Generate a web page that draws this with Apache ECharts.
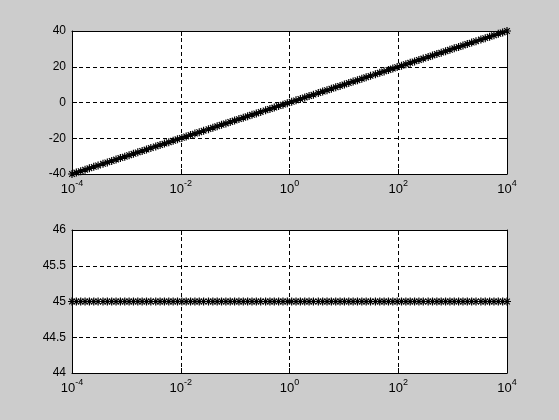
<!DOCTYPE html>
<html>
<head>
<meta charset="utf-8">
<script src="https://cdn.jsdelivr.net/npm/echarts@6/dist/echarts.min.js"></script>
<style>
  body { margin: 0; background: #cccccc; }
  #chart { width: 559px; height: 420px; }
</style>
</head>
<body>
<div id="chart"></div>
<script>
const xDecades = [
  -4.00, -3.92, -3.84, -3.76, -3.68, -3.60, -3.52, -3.43, -3.35, -3.27,
  -3.19, -3.11, -3.03, -2.95, -2.87, -2.79, -2.71, -2.63, -2.55, -2.46,
  -2.38, -2.30, -2.22, -2.14, -2.06, -1.98, -1.90, -1.82, -1.74, -1.66,
  -1.58, -1.49, -1.41, -1.33, -1.25, -1.17, -1.09, -1.01, -0.93, -0.85,
  -0.77, -0.69, -0.61, -0.53, -0.44, -0.36, -0.28, -0.20, -0.12, -0.04,
  0.04, 0.12, 0.20, 0.28, 0.36, 0.44, 0.53, 0.61, 0.69, 0.77,
  0.85, 0.93, 1.01, 1.09, 1.17, 1.25, 1.33, 1.41, 1.49, 1.58,
  1.66, 1.74, 1.82, 1.90, 1.98, 2.06, 2.14, 2.22, 2.30, 2.38,
  2.46, 2.55, 2.63, 2.71, 2.79, 2.87, 2.95, 3.03, 3.11, 3.19,
  3.27, 3.35, 3.43, 3.52, 3.60, 3.68, 3.76, 3.84, 3.92, 4.00
]

const topValues = [
  -40.0, -39.2, -38.4, -37.6, -36.8, -36.0, -35.2, -34.3, -33.5, -32.7,
  -31.9, -31.1, -30.3, -29.5, -28.7, -27.9, -27.1, -26.3, -25.5, -24.6,
  -23.8, -23.0, -22.2, -21.4, -20.6, -19.8, -19.0, -18.2, -17.4, -16.6,
  -15.8, -14.9, -14.1, -13.3, -12.5, -11.7, -10.9, -10.1, -9.3, -8.5,
  -7.7, -6.9, -6.1, -5.3, -4.4, -3.6, -2.8, -2.0, -1.2, -0.4,
  0.4, 1.2, 2.0, 2.8, 3.6, 4.4, 5.3, 6.1, 6.9, 7.7,
  8.5, 9.3, 10.1, 10.9, 11.7, 12.5, 13.3, 14.1, 14.9, 15.8,
  16.6, 17.4, 18.2, 19.0, 19.8, 20.6, 21.4, 22.2, 23.0, 23.8,
  24.6, 25.5, 26.3, 27.1, 27.9, 28.7, 29.5, 30.3, 31.1, 31.9,
  32.7, 33.5, 34.3, 35.2, 36.0, 36.8, 37.6, 38.4, 39.2, 40.0
]

const bottomValues = [
  45, 45, 45, 45, 45, 45, 45, 45, 45, 45,
  45, 45, 45, 45, 45, 45, 45, 45, 45, 45,
  45, 45, 45, 45, 45, 45, 45, 45, 45, 45,
  45, 45, 45, 45, 45, 45, 45, 45, 45, 45,
  45, 45, 45, 45, 45, 45, 45, 45, 45, 45,
  45, 45, 45, 45, 45, 45, 45, 45, 45, 45,
  45, 45, 45, 45, 45, 45, 45, 45, 45, 45,
  45, 45, 45, 45, 45, 45, 45, 45, 45, 45,
  45, 45, 45, 45, 45, 45, 45, 45, 45, 45,
  45, 45, 45, 45, 45, 45, 45, 45, 45, 45
]

const xMin = 1e-4
const xMax = 1e4
const topTicks = { min: -40, max: 40, interval: 20 }
const bottomTicks = { min: 44, max: 46, interval: 0.5 }

const font = 'Liberation Sans, Arial, sans-serif'
const asterisk = 'path://M0,-10L0,10M-10,0L10,0M-7,-7L7,7M-7,7L7,-7'

const dashed = { show: true, lineStyle: { color: '#000', type: [4, 3], width: 1 } }
const tick = { show: true, inside: true, length: 5, lineStyle: { color: '#000' } }
const line = { show: true, onZero: false, lineStyle: { color: '#000', width: 1 } }

const logLabel = {
  margin: 5,
  fontFamily: font,
  color: '#000',
  formatter: v => '{b|10}{s|' + Math.round(Math.log10(v)) + '}',
  rich: {
    b: { fontSize: 13, lineHeight: 20, fontFamily: font, color: '#000' },
    s: { fontSize: 9, lineHeight: 9, verticalAlign: 'top', fontFamily: font, color: '#000' }
  }
}

function xAxes(gridIndex) {
  const base = {
    type: 'log', logBase: 10, gridIndex, min: xMin, max: xMax, interval: 2,
    axisLine: line, axisTick: tick, minorTick: { show: false }
  }
  return [
    { ...base, position: 'bottom', axisLabel: logLabel, splitLine: dashed },
    { ...base, position: 'top', axisLabel: { show: false }, splitLine: { show: false } }
  ]
}

function yAxes(gridIndex, ticks) {
  const base = { type: 'value', gridIndex, ...ticks, axisLine: line, axisTick: tick }
  return [
    { ...base, position: 'left', splitLine: dashed,
      axisLabel: { margin: 6, fontSize: 12, fontFamily: font, color: '#000' } },
    { ...base, position: 'right', axisLabel: { show: false }, splitLine: { show: false } }
  ]
}

function series(xAxisIndex, yAxisIndex, values) {
  return {
    type: 'line',
    xAxisIndex,
    yAxisIndex,
    data: xDecades.map((d, i) => [Math.pow(10, d), values[i]]),
    symbol: asterisk,
    symbolSize: 8,
    showSymbol: true,
    showAllSymbol: true,
    lineStyle: { color: '#000', width: 1 },
    itemStyle: { color: 'none', borderColor: '#000', borderWidth: 1.2 },
    animation: false
  }
}

const chart = echarts.init(document.getElementById('chart'))
chart.setOption({
  backgroundColor: '#cccccc',
  animation: false,
  grid: [
    { left: 72, right: 52, top: 31, height: 143, show: true, backgroundColor: '#fff', borderWidth: 0 },
    { left: 72, right: 52, top: 230, height: 143, show: true, backgroundColor: '#fff', borderWidth: 0 }
  ],
  xAxis: [...xAxes(0), ...xAxes(1)],
  yAxis: [...yAxes(0, topTicks), ...yAxes(1, bottomTicks)],
  series: [
    series(0, 0, topValues),
    series(2, 2, bottomValues)
  ]
})
</script>
</body>
</html>
